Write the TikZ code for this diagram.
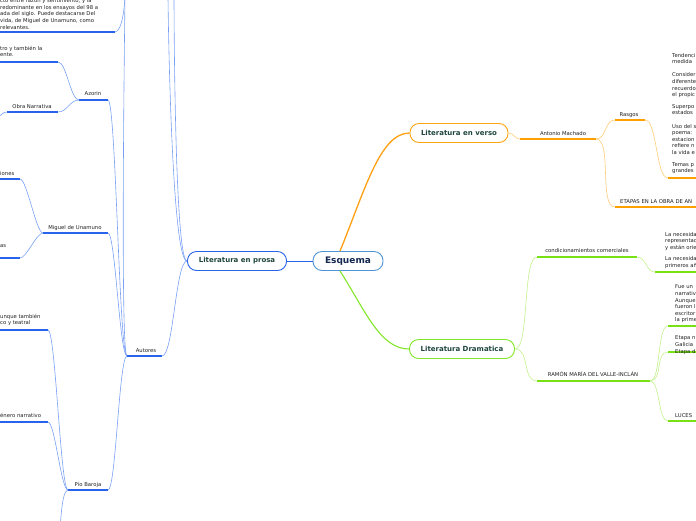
\documentclass[tikz,border=0pt]{standalone}
\usepackage{fontspec}
\setmainfont{DejaVu Sans}
\begin{document}
\begin{tikzpicture}[x=1pt,y=-1pt,
  txt/.style={inner sep=0pt,anchor=north west,yshift=4.2pt,align=left,font=\fontsize{5.3}{6.6}\selectfont,text=black!88},
  lbl/.style={inner sep=0pt,anchor=base,font=\fontsize{5.3}{6}\selectfont,text=black!88},
  main/.style={draw,rounded corners=9pt,line width=0.9pt,minimum height=19pt,font=\fontsize{7}{8}\bfseries\selectfont,text={rgb,255:red,30;green,70;blue,60}},
  bul/.style={line width=1.3pt,color={rgb,255:red,40;green,100;blue,235}},
  bc/.style={line width=0.6pt,color={rgb,255:red,120;green,160;blue,245}},
  oul/.style={line width=1.3pt,color={rgb,255:red,255;green,160;blue,0}},
  oc/.style={line width=0.6pt,color={rgb,255:red,255;green,205;blue,120}},
  gul/.style={line width=1.3pt,color={rgb,255:red,120;green,225;blue,20}},
  gc/.style={line width=0.6pt,color={rgb,255:red,195;green,240;blue,140}}]
\useasboundingbox (0,0) rectangle (696,520);
\clip (0,0) rectangle (696,520);
% main nodes
\node[main,draw={rgb,255:red,80;green,150;blue,215},minimum width=70pt,font=\fontsize{9}{10}\bfseries\selectfont,text={rgb,255:red,20;green,40;blue,80}] (esq) at (348,261) {Esquema};
\node[main,draw={rgb,255:red,40;green,100;blue,235},minimum width=99pt] (prosa) at (237,261) {Literatura en prosa};
\node[main,draw={rgb,255:red,255;green,165;blue,20},minimum width=98pt] (verso) at (459,133) {Literatura en verso};
\node[main,draw={rgb,255:red,130;green,230;blue,40},minimum width=105pt] (drama) at (462,349) {Literatura Dramatica};
\draw[bul,line width=1pt] (esq.west) -- (prosa.east);
\draw[line width=1.3pt,color={rgb,255:red,255;green,160;blue,20}] ([xshift=-8pt]esq.north) .. controls (365,190) and (380,133) .. (verso.west);
\draw[line width=1.1pt,color={rgb,255:red,130;green,230;blue,40}] ([xshift=-8pt]esq.south) .. controls (365,310) and (380,349) .. (drama.west);
% ---- verso
\coordinate (am-l) at (520,139); \coordinate (am-r) at (596,139);
\draw[oul] (am-l) -- (am-r); \node[lbl] (amt) at (563,135) {Antonio Machado};
\draw[oc] (verso.east) to[out=0,in=180] (am-l);
\coordinate (ra-l) at (615,120); \coordinate (ra-r) at (645,120);
\draw[oul] (ra-l) -- (ra-r); \node[lbl] (rat) at (629,116) {Rasgos};
\draw[oc] (am-r) to[out=0,in=180] (ra-l);
\coordinate (et-l) at (615,207); \coordinate (et-r) at (700,207);
\draw[oul] (et-l) -- (et-r); \node[lbl,anchor=base west] (ett) at (620,203) {ETAPAS EN LA OBRA DE AN};
\draw[oc] (am-r) to[out=0,in=180,looseness=0.6] (et-l);
\coordinate (rs-l) at (668,178); \coordinate (rs-r) at (700,178);
\draw[oul] (rs-l) -- (rs-r);
\draw[oc] (ra-r) to[out=0,in=180,looseness=0.5] (rs-l);
\node[txt] (rst) at (672,57) {Tendenci\\medida \\[6.6pt]Consider\\diferente\\recuerdo\\el propic\\[5pt]Superpo\\estados \\[6.6pt]Uso del s\\poema: \\estacion\\refiere n\\la vida e\\[5pt]Temas p\\grandes};
% ---- drama
\coordinate (co-l) at (537,257); \coordinate (co-r) at (637,257);
\draw[gul] (co-l) -- (co-r); \node[lbl] (cot) at (587,252) {condicionamientos comerciales};
\draw[gc] (drama.east) to[out=0,in=180,looseness=0.4] (co-l);
\coordinate (rv-l) at (537,381); \coordinate (rv-r) at (650,381);
\draw[gul] (rv-l) -- (rv-r); \node[lbl] (rvt) at (593,376) {RAMÓN MARÍA DEL VALLE-INCLÁN};
\draw[gc] (drama.east) to[out=0,in=180] (rv-l);
\coordinate (c1-l) at (655,272); \coordinate (c1-r) at (700,272);
\draw[gul] (c1-l) -- (c1-r); \draw[gc] (co-r) to[out=0,in=180] (c1-l);
\node[txt] (c1t) at (665,236) {La necesida\\representac\\y están orie\\[5pt]La necesida\\primeros añ};
\coordinate (v1-l) at (668,326); \coordinate (v1-r) at (700,326);
\draw[gul] (v1-l) -- (v1-r); \draw[gc] (rv-r) to[out=0,in=180,looseness=0.5] (v1-l);
\node[txt] (v1t) at (675,289) {Fue un \\narrativ\\Aunque\\fueron l\\escritor\\la prime};
\coordinate (v2-l) at (668,352); \coordinate (v2-r) at (700,352);
\draw[gul] (v2-l) -- (v2-r); \draw[gc] (rv-r) to[out=0,in=180] (v2-l);
\node[txt] (v2t) at (675,340) {Etapa n\\Galicia \\Etapa d};
\coordinate (v3-l) at (668,421); \coordinate (v3-r) at (700,421);
\draw[gul] (v3-l) -- (v3-r); \draw[gc] (rv-r) to[out=0,in=180,looseness=0.6] (v3-l);
\node[lbl,anchor=base west] (v3t) at (675,417) {LUCES };
% ---- prosa
\coordinate (up1) at (168,-5); \coordinate (up2) at (174,-5);
\draw[bc] (prosa.west) to[out=180,in=270,looseness=0.15] (up1);
\draw[bc] (prosa.west) to[out=180,in=270,looseness=0.12] (up2);
\coordinate (au-l) at (127,356); \coordinate (au-r) at (162,356);
\draw[bul] (au-l) -- (au-r); \node[lbl] (aut) at (146,352) {Autores};
\draw[bc] (prosa.west) to[out=180,in=0,looseness=0.3] (au-r);
\coordinate (az-l) at (79,100); \coordinate (az-r) at (108,100);
\draw[bul] (az-l) -- (az-r); \node[lbl] (azt) at (93,95) {Azorin};
\draw[bc] (au-l) to[out=180,in=0,looseness=0.08] (az-r);
\coordinate (mu-l) at (43,233); \coordinate (mu-r) at (108,233);
\draw[bul] (mu-l) -- (mu-r); \node[lbl] (mut) at (75,229) {Miguel de Unamuno};
\draw[bc] (au-l) to[out=180,in=0,looseness=0.15] (mu-r);
\coordinate (up3) at (125,-5);
\draw[bc] (au-l) to[out=180,in=270,looseness=0.05] (up3);
\coordinate (pb-l) at (68,490); \coordinate (pb-r) at (108,490);
\draw[bul] (pb-l) -- (pb-r); \node[lbl] (pbt) at (88,486) {Pío Baroja};
\draw[bc] (au-l) to[out=180,in=0,looseness=0.15] (pb-r);
% top block
\coordinate (tb-l) at (-5,32); \coordinate (tb-r) at (115,32);
\draw[bul] (tb-l) -- (tb-r);
\draw[bc] (tb-r) to[out=0,in=270,looseness=0.5] (up3);
\node[txt] (tbt) at (0,2.5) {cto entre razón y sentimiento, y la\\redominante en los ensayos del 98 a\\ada del siglo. Puede destacarse Del\\ vida, de Miguel de Unamuno, como\\relevantes.};
% azorin children
\coordinate (a1-l) at (-5,62); \coordinate (a1-r) at (58,62);
\draw[bul] (a1-l) -- (a1-r); \draw[bc] (az-l) to[out=180,in=0,looseness=0.5] (a1-r);
\node[txt] (a1t) at (0,50) {tro y también la\\ente.};
\coordinate (on-l) at (7,112); \coordinate (on-r) at (58,112);
\draw[bul] (on-l) -- (on-r); \draw[bc] (az-l) to[out=180,in=0] (on-r);
\node[lbl] (ont) at (32,108) {Obra Narrativa};
\coordinate (on-x) at (-3,118);
\draw[bc] (on-l) to[out=180,in=30] (on-x);
% unamuno children
\coordinate (m1-l) at (-5,179); \coordinate (m1-r) at (20,179);
\draw[bul] (m1-l) -- (m1-r); \draw[bc] (mu-l) to[out=180,in=0,looseness=0.3] (m1-r);
\node[lbl,anchor=base west] (m1t) at (0,175) {iones};
\coordinate (m2-l) at (-5,258); \coordinate (m2-r) at (20,258);
\draw[bul] (m2-l) -- (m2-r); \draw[bc] (mu-l) to[out=180,in=0,looseness=0.5] (m2-r);
\node[lbl,anchor=base west] (m2t) at (0,247) {as};
% baroja children
\coordinate (p1-l) at (-5,330); \coordinate (p1-r) at (48,330);
\draw[bul] (p1-l) -- (p1-r); \draw[bc] (pb-l) to[out=180,in=0,looseness=0.12] (p1-r);
\node[txt] (p1t) at (0,318) {unque también\\co y teatral};
\coordinate (p2-l) at (-5,422); \coordinate (p2-r) at (48,422);
\draw[bul] (p2-l) -- (p2-r); \draw[bc] (pb-l) to[out=180,in=0,looseness=0.25] (p2-r);
\node[lbl,anchor=base west] (p2t) at (0,417) {énero narrativo};
\coordinate (p3) at (60,525);
\draw[bc] (pb-l) to[out=180,in=275,looseness=0.5] (p3);
\end{tikzpicture}
\end{document}
